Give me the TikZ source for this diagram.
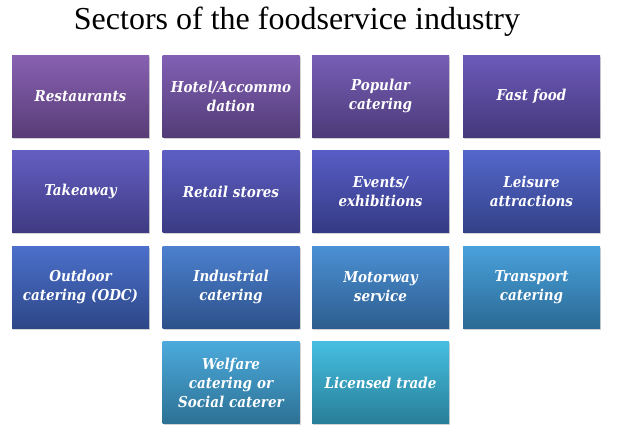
\documentclass[tikz,border=0pt]{standalone}
\usepackage{fontspec}
\newfontfamily\titrefont{Liberation Serif}
\newfontfamily\boitefont{DejaVu Serif Condensed}
\usepackage{tikz}
\usetikzlibrary{shapes}
\usetikzlibrary{shadows}
\definecolor{violetA}{HTML}{8259AE}
\definecolor{violetB}{HTML}{7A58B0}
\definecolor{violetC}{HTML}{7056B2}
\definecolor{violetD}{HTML}{6552B6}
\definecolor{indigoA}{HTML}{5C56BF}
\definecolor{indigoB}{HTML}{5556C0}
\definecolor{indigoC}{HTML}{4E55C2}
\definecolor{indigoD}{HTML}{4B5FC8}
\definecolor{bleuA}{HTML}{4268C8}
\definecolor{bleuB}{HTML}{4279CC}
\definecolor{bleuC}{HTML}{428AD2}
\definecolor{bleuD}{HTML}{3F9CDA}
\definecolor{cyanB}{HTML}{42A6DA}
\definecolor{cyanC}{HTML}{3BBBDF}
\tikzstyle{titre}=[text=black,font=\titrefont\fontsize{32}{38}\selectfont]
\tikzstyle{secteur}=[
        rectangle,
        minimum width=137pt,
        minimum height=82pt,
        text width=135pt,
        align=center,
        inner sep=1pt,
        text=white,
        font=\boitefont\fontsize{15}{19}\selectfont\bfseries\itshape,
        drop shadow={shadow xshift=1pt,shadow yshift=-1.5pt,opacity=0.35}
]
\tikzstyle{teinte}=[top color=#1!95!white,bottom color=#1!68!black]

\begin{document}
\begin{tikzpicture}[x=1pt,y=-1pt]
\useasboundingbox (0,0) rectangle (625,431);
\node[titre] (titre) at (297,22) {Sectors of the foodservice industry};
%premiere rangee
\node[secteur,teinte=violetA] (resto) at (80.5,96) {Restaurants};
\node[secteur,teinte=violetB] (hotel) at (231,96) {Hotel/Accommo\\dation};
\node[secteur,teinte=violetC] (popul) at (380.5,96) {Popular\\catering};
\node[secteur,teinte=violetD] (fast) at (531.5,96) {Fast food};
%deuxieme rangee
\node[secteur,teinte=indigoA] (take) at (80.5,191.5) {Takeaway};
\node[secteur,teinte=indigoB] (retail) at (231,191.5) {Retail stores};
\node[secteur,teinte=indigoC] (events) at (380.5,191.5) {Events/\\exhibitions};
\node[secteur,teinte=indigoD] (loisir) at (531.5,191.5) {Leisure\\attractions};
%troisieme rangee
\node[secteur,teinte=bleuA] (odc) at (80.5,287) {Outdoor\\catering (ODC)};
\node[secteur,teinte=bleuB] (indus) at (231,287) {Industrial\\catering};
\node[secteur,teinte=bleuC] (motor) at (380.5,287) {Motorway\\service};
\node[secteur,teinte=bleuD] (transp) at (531.5,287) {Transport\\catering};
%quatrieme rangee
\node[secteur,teinte=cyanB] (welfare) at (231,382.5) {Welfare\\catering or\\Social caterer};
\node[secteur,teinte=cyanC] (licence) at (380.5,382.5) {Licensed trade};
\end{tikzpicture}
\end{document}
